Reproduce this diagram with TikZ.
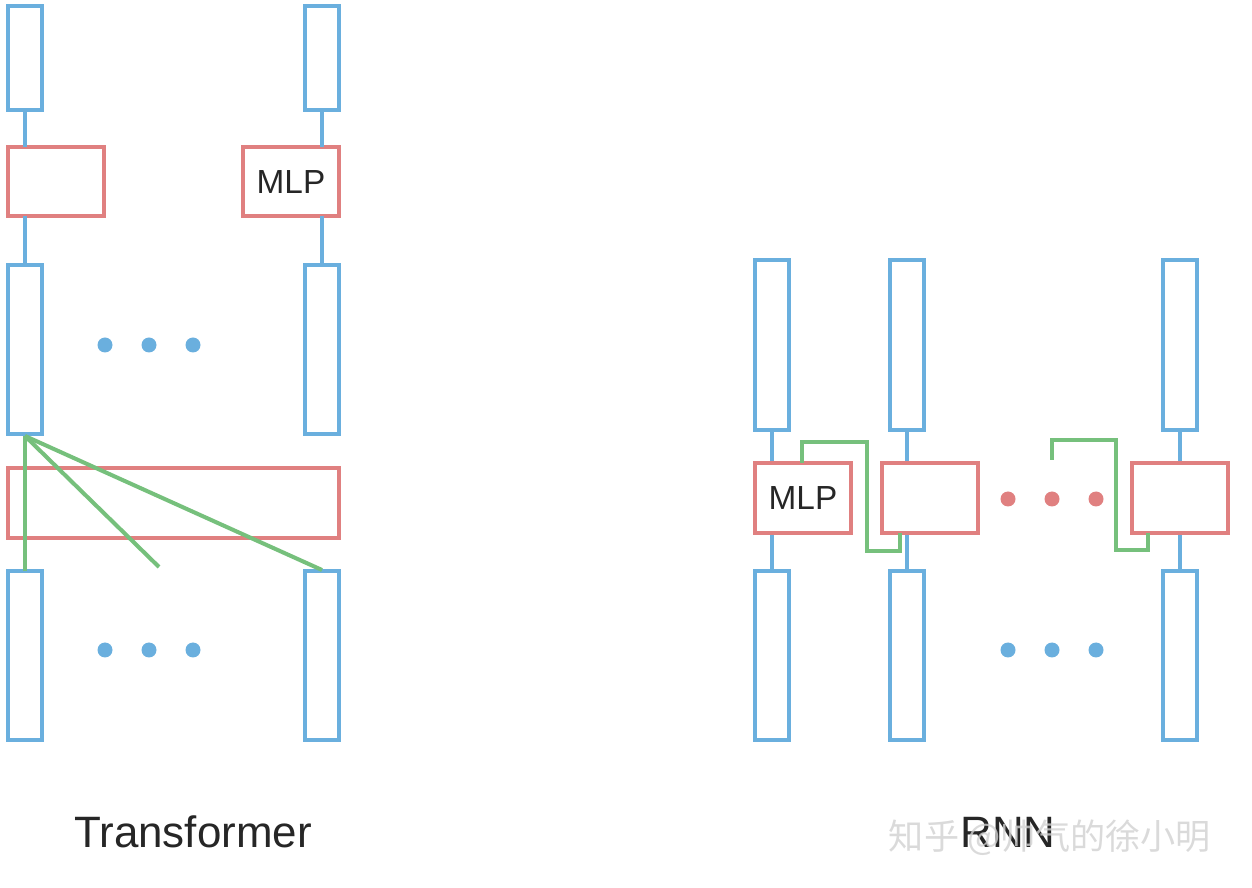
\documentclass[tikz,border=0pt]{standalone}
\usepackage{fontspec}
\setmainfont{Liberation Sans}
\newfontfamily\cjkf{Noto Sans CJK SC}
\definecolor{bl}{RGB}{106,175,222}
\definecolor{rd}{RGB}{224,128,128}
\definecolor{gr}{RGB}{118,192,124}
\begin{document}
\begin{tikzpicture}[x=0.02cm,y=-0.02cm,
  bbox/.style={draw=bl,line width=2.3pt},
  rbox/.style={draw=rd,line width=2.3pt},
  bln/.style={draw=bl,line width=2.3pt},
  gln/.style={draw=gr,line width=2.3pt},
  bdot/.style={fill=bl,circle,inner sep=0pt,minimum size=15\pgflinewidth},
  lbl/.style={font=\fontsize{19}{19}\selectfont,text=black!85}]
\useasboundingbox (0,0) rectangle (1252,888);
% Transformer
\foreach \n/\x in {a/8,b/305}{
  \draw[bbox] (\x,6) rectangle (\x+34,110);
  \draw[bbox] (\x,265) rectangle (\x+34,434);
  \draw[bbox] (\x,571) rectangle (\x+34,740);
}
\draw[rbox] (8,147) rectangle (104,216);
\draw[rbox] (243,147) rectangle (339,216);
\node[lbl] (mlp1) at (291,182) {MLP};
\draw[bln] (25,110) -- (25,147); \draw[bln] (25,216) -- (25,265);
\draw[bln] (322,110) -- (322,147); \draw[bln] (322,216) -- (322,265);
\draw[rbox] (8,468) rectangle (339,538);
\foreach \x in {105,149,193}{
  \fill[bl] (\x,345) circle (7.5);
  \fill[bl] (\x,650) circle (7.5);
}
\coordinate (s) at (25,436);
\draw[gln] (s) -- (25,571);
\draw[gln] (s) -- (159,567);
\draw[gln] (s) -- (322,570);
\node[font=\fontsize{25}{25}\selectfont,text=black!85] (t1) at (193,832) {Transformer};
% RNN
\foreach \x in {755,890,1163}{
  \draw[bbox] (\x,260) rectangle (\x+34,430);
  \draw[bbox] (\x,571) rectangle (\x+34,740);
  \draw[bln] (\x+17,430) -- (\x+17,463);
  \draw[bln] (\x+17,533) -- (\x+17,571);
}
\draw[rbox] (755,463) rectangle (851,533);
\draw[rbox] (882,463) rectangle (978,533);
\draw[rbox] (1132,463) rectangle (1228,533);
\node[lbl] (mlp2) at (803,498) {MLP};
\foreach \x in {1008,1052,1096}{
  \fill[rd] (\x,499) circle (7.5);
  \fill[bl] (\x,650) circle (7.5);
}
\draw[gln] (802,463) -- (802,442) -- (867,442) -- (867,551) -- (900,551) -- (900,533);
\draw[gln] (1052,460) -- (1052,440) -- (1116,440) -- (1116,550) -- (1148,550) -- (1148,533);
\node[font=\fontsize{25}{25}\selectfont,text=black!85] (t2) at (1008,832) {RNN};
\node[font=\cjkf\fontsize{20}{20}\selectfont,text=black!18,opacity=0.8] (wm) at (1050,838) {知乎 @帅气的徐小明};
\end{tikzpicture}
\end{document}
